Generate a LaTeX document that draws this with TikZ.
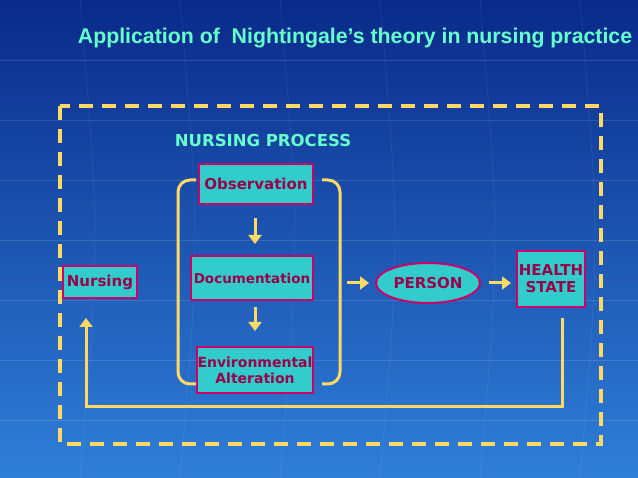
\documentclass[tikz,border=0pt]{standalone}
\usepackage{fontspec}
\setmainfont{Liberation Sans}
\newfontfamily\boxfont{DejaVu Sans}
\usetikzlibrary{positioning, shapes.geometric, arrows.meta}
\definecolor{bgtop}{HTML}{0A2A8A}
\definecolor{bgbot}{HTML}{2F7FD8}
\definecolor{ttl}{HTML}{66FFCC}
\definecolor{gold}{HTML}{FFD966}
\definecolor{boxfill}{HTML}{33CCCC}
\definecolor{boxline}{HTML}{CC0066}
\definecolor{boxtext}{HTML}{99004C}
\begin{document}
\begin{tikzpicture}[x=1pt,y=-1pt,
    stage/.style={draw=boxline, line width=2pt, fill=boxfill, text=boxtext,
                 font=\boxfont\bfseries\fontsize{15}{17}\selectfont, align=center, inner sep=1pt},
    flow/.style={gold, line width=3pt, -{Triangle[length=9pt,width=13pt]}},
    brace/.style={gold, line width=3pt, rounded corners=12pt}]
    \useasboundingbox (0,0) rectangle (638,478);
    \shade[top color=bgtop, bottom color=bgbot] (0,0) rectangle (638,478);
    % globe grid
    \foreach \y in {60,120,...,460}
        \draw[white, opacity=0.12] (0,\y) -- (638,\y);
    \foreach \x in {80,180,...,580}
        \draw[white, opacity=0.12] (\x,0) .. controls (\x+20,240) .. (\x,478);
    \node[text=ttl, font=\bfseries\fontsize{21.3}{23}\selectfont] (title) at (355,38)
        {Application of \ Nightingale’s theory in nursing practice};
    \draw[gold, line width=3.5pt, dash pattern=on 14pt off 9pt] (60,106) rectangle (601,444);
    \node[text=ttl, font=\boxfont\bfseries\fontsize{16.5}{18}\selectfont] (proc) at (263,140) {NURSING PROCESS};
    % stages
    \node[stage, minimum width=114pt, minimum height=40pt] (obs) at (256,184) {Observation};
    \node[stage, minimum width=122pt, minimum height=44pt, font=\boxfont\bfseries\fontsize{13.5}{15}\selectfont] (doc) at (252,278) {Documentation};
    \node[stage, minimum width=112pt, minimum height=46pt, font=\boxfont\bfseries\fontsize{14}{16}\selectfont] (env) at (255,370) {Environmental\\Alteration};
    \node[stage, minimum width=74pt, minimum height=32pt] (nurs) at (100,282) {Nursing};
    \node[stage, ellipse, minimum width=104pt, minimum height=40pt, inner sep=0pt] (pers) at (428,283) {PERSON};
    \node[stage, minimum width=68pt, minimum height=56pt] (hlth) at (551,279) {HEALTH\\STATE};
    % arrows
    \coordinate (o1) at (255,218); \coordinate (o2) at (255,244);
    \coordinate (d1) at (255,307); \coordinate (d2) at (255,331);
    \draw[flow] (o1) -- (o2);
    \draw[flow] (d1) -- (d2);
    \draw[flow] (347,283) -- (369,283);
    \draw[flow] (489,283) -- (511,283);
    % brackets
    \draw[brace] (196,180) -- (178,180) -- (178,384) -- (196,384);
    \draw[brace] (322,180) -- (340,180) -- (340,384) -- (322,384);
    % feedback loop
    \coordinate (top) at (562,318);
    \coordinate (tip) at (86,318);
    \draw[flow] (top) -- (562,407) -- (86,407) -- (tip);
\end{tikzpicture}
\end{document}
